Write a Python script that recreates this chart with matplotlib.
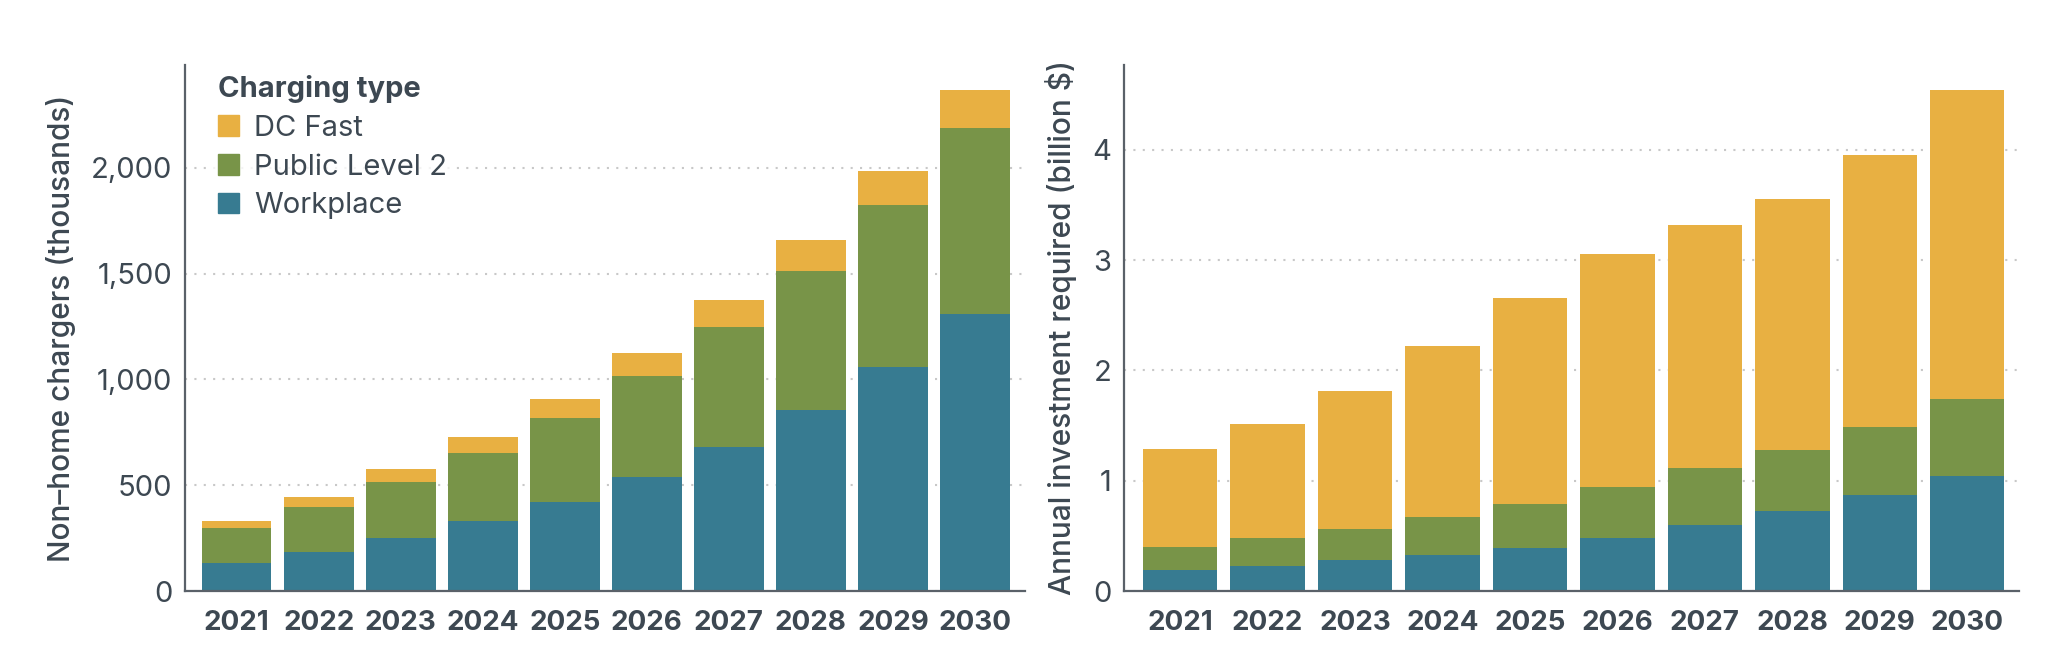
import numpy as np
from matplotlib import pyplot as plt
from matplotlib.patches import Patch
from matplotlib.ticker import FuncFormatter

plt.rcParams["font.family"] = ["Inter", "DejaVu Sans"]

# ---- data ----
years = ["2021", "2022", "2023", "2024", "2025", "2026", "2027", "2028", "2029", "2030"]

# non-home chargers, thousands (stack tops as read; segments derived below)
chg_workplace = [132, 184, 251, 331, 421, 539, 679, 854, 1059, 1308]
chg_level2_top = [298, 397, 516, 653, 818, 1015, 1248, 1512, 1824, 2187]
chg_total = [331, 445, 577, 728, 908, 1123, 1375, 1656, 1983, 2366]

# annual investment, billion $
inv_workplace = [0.188, 0.230, 0.279, 0.324, 0.387, 0.484, 0.599, 0.723, 0.875, 1.044]
inv_level2_top = [0.397, 0.478, 0.566, 0.669, 0.787, 0.941, 1.113, 1.277, 1.488, 1.737]
inv_total = [1.289, 1.513, 1.815, 2.221, 2.659, 3.055, 3.318, 3.557, 3.954, 4.544]

col_dc = "#E8B042"
col_l2 = "#789448"
col_wp = "#377B91"
col_text = "#3D4852"
col_spine = "#5A6169"
col_grid = "#C8C8C8"

fig = plt.figure(figsize=(20.48, 6.71), dpi=100)
ax1 = fig.add_axes([0.0903, 0.1192, 0.4102, 0.7839])
ax2 = fig.add_axes([0.5488, 0.1192, 0.4370, 0.7839])


def stack(ax, wp, l2top, tot):
    x = np.arange(len(years))
    wp = np.array(wp)
    l2 = np.array(l2top) - wp
    dc = np.array(tot) - np.array(l2top)
    ax.bar(x, wp, width=0.85, color=col_wp, zorder=2)
    ax.bar(x, l2, bottom=wp, width=0.85, color=col_l2, zorder=2)
    ax.bar(x, dc, bottom=wp + l2, width=0.85, color=col_dc, zorder=2)
    ax.set_xticks(x)
    ax.set_xticklabels(years, fontsize=20, fontweight="bold", color=col_text)


def style(ax):
    for side in ["top", "right"]:
        ax.spines[side].set_visible(False)
    for side in ["left", "bottom"]:
        ax.spines[side].set_color(col_spine)
        ax.spines[side].set_linewidth(1.6)
    ax.tick_params(axis="both", length=0)
    ax.tick_params(axis="y", labelsize=21, labelcolor=col_text, pad=9)
    ax.tick_params(axis="x", pad=14)
    ax.yaxis.grid(True, color=col_grid, linestyle=(0, (1, 3.5)), linewidth=1.5, zorder=0)
    ax.set_axisbelow(True)
    ax.set_xlim(-0.63, 9.61)


stack(ax1, chg_workplace, chg_level2_top, chg_total)
style(ax1)
ax1.set_ylim(0, 2485)
ax1.set_yticks([0, 500, 1000, 1500, 2000])
ax1.yaxis.set_major_formatter(FuncFormatter(lambda v, p: "{:,.0f}".format(v)))
ax1.set_ylabel("Non–home chargers (thousands)", fontsize=21.5, fontweight="medium",
               color=col_text, labelpad=11)

stack(ax2, inv_workplace, inv_level2_top, inv_total)
style(ax2)
ax2.set_xlim(-0.64, 9.59)
ax2.set_ylim(0, 4.77)
ax2.set_yticks([0, 1, 2, 3, 4])
ax2.set_ylabel("Annual investment required (billion $)", fontsize=21.5, fontweight="medium",
               color=col_text, labelpad=11)

handles = [Patch(color=col_dc, label="DC Fast"),
           Patch(color=col_l2, label="Public Level 2"),
           Patch(color=col_wp, label="Workplace")]
leg = ax1.legend(handles=handles, title="Charging type", loc="upper left",
                 bbox_to_anchor=(0.012, 1.025), fontsize=21, frameon=True,
                 handlelength=0.72, handleheight=0.72, handletextpad=0.5,
                 labelspacing=0.4, borderpad=0.3, alignment="left")
leg.get_frame().set_facecolor("white")
leg.get_frame().set_edgecolor("none")
leg.get_title().set_fontweight("bold")
leg.get_title().set_fontsize(21)
leg.get_title().set_color(col_text)
for t in leg.get_texts():
    t.set_color(col_text)
leg.set_zorder(5)

fig.savefig("out.png", dpi=100, facecolor="white")
